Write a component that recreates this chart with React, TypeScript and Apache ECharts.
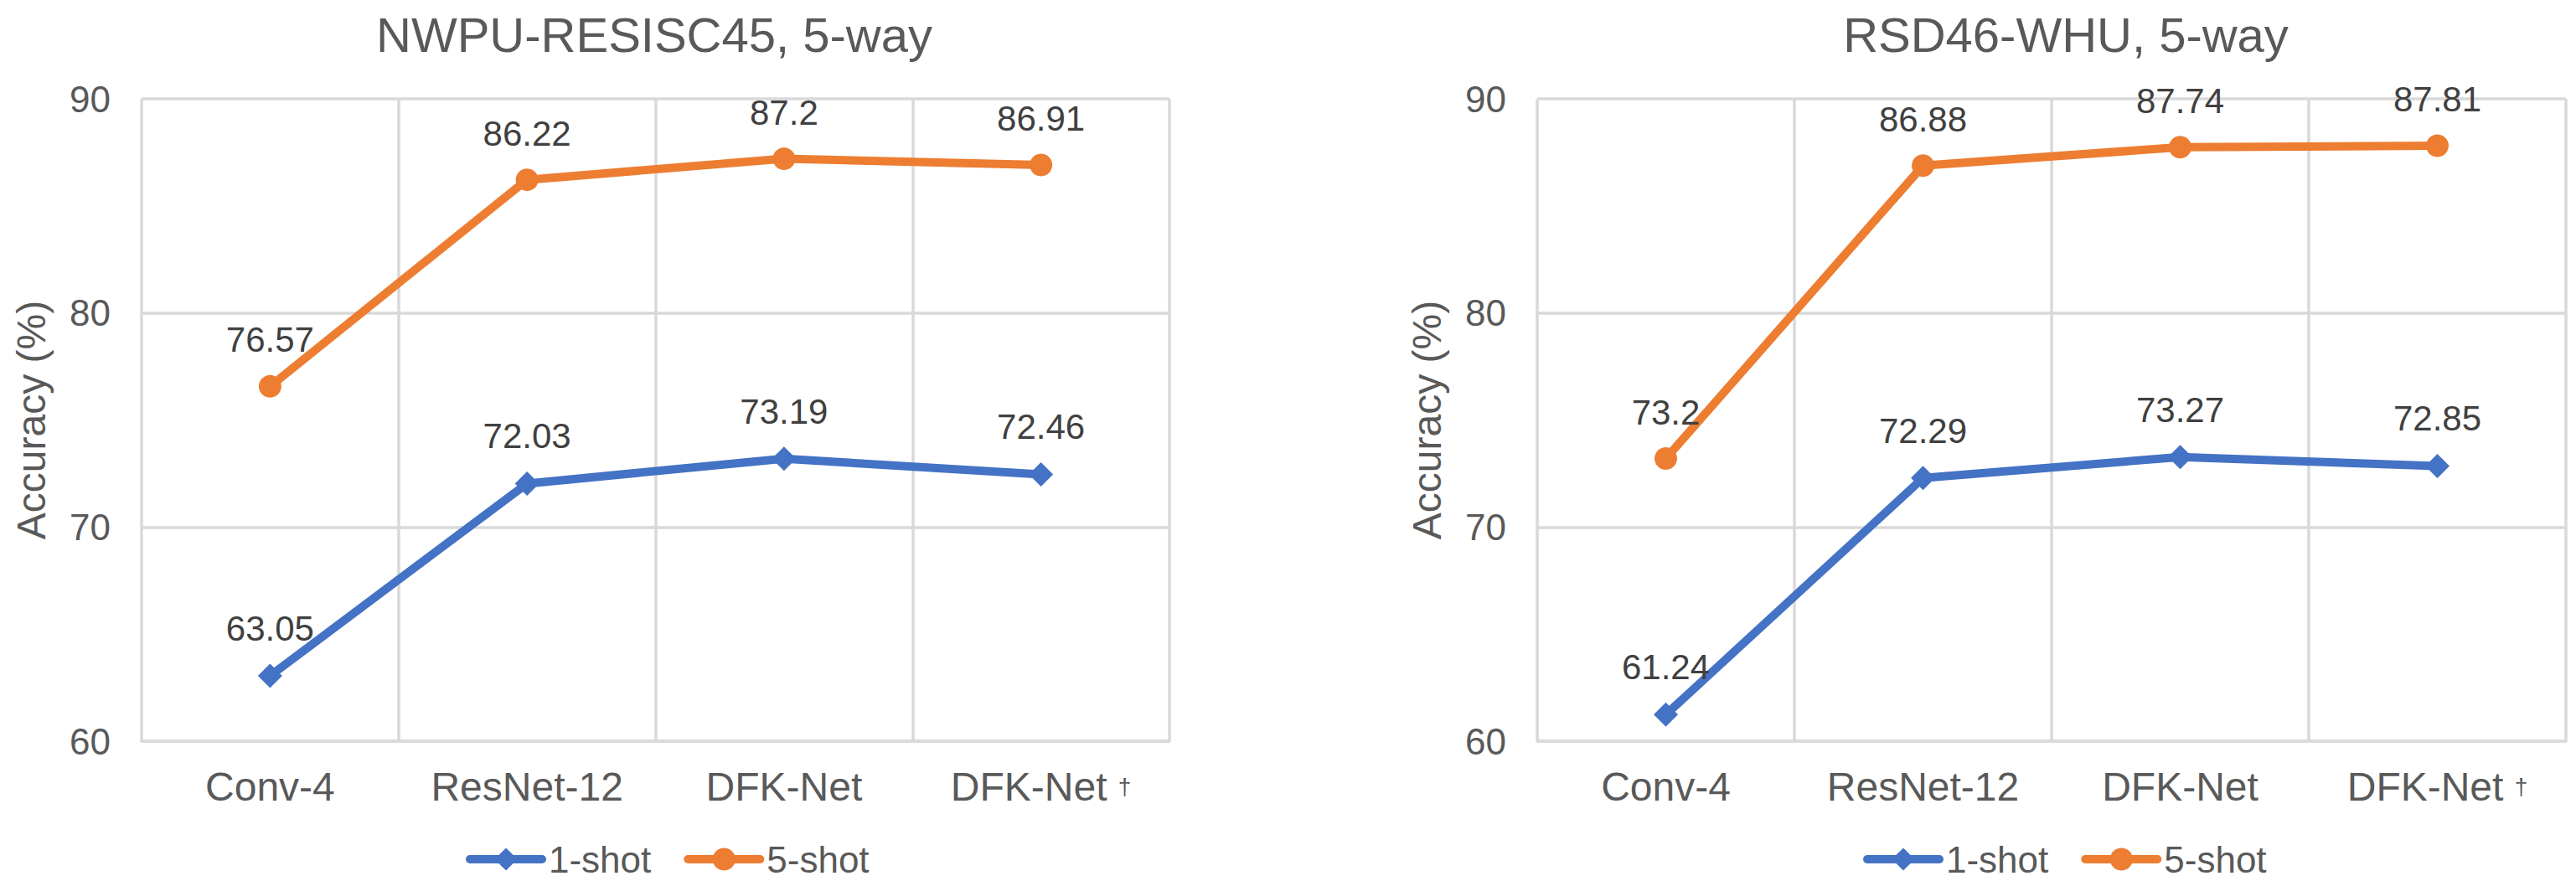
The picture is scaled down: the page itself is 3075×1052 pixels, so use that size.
import React, { useEffect, useRef } from "react";
import * as echarts from "echarts";

const categories = ["Conv-4", "ResNet-12", "DFK-Net", "DFK-Net †"];
const seriesNames = ["1-shot", "5-shot"];
const nwpuOneShot = [63.05, 72.03, 73.19, 72.46];
const nwpuFiveShot = [76.57, 86.22, 87.2, 86.91];
const rsdOneShot = [61.24, 72.29, 73.27, 72.85];
const rsdFiveShot = [73.2, 86.88, 87.74, 87.81];
const chartTitles = ["NWPU-RESISC45, 5-way", "RSD46-WHU, 5-way"];
const yMin = 60;
const yMax = 90;
const yInterval = 10;
const yName = "Accuracy (%)";

const BLUE = "#4472C4";
const ORANGE = "#ED7D31";
const TEXT = "#595959";
const LABEL = "#404040";
const GRID = "#D9D9D9";
const FONT = "'Liberation Sans', Arial, Helvetica, sans-serif";
const LINE_W = 10;

const panels = [
  { left: 169, width: 1227, titleX: 781, legendLeft: 551, one: nwpuOneShot, five: nwpuFiveShot },
  { left: 1835, width: 1228, titleX: 2466, legendLeft: 2219, one: rsdOneShot, five: rsdFiveShot },
];

function buildOption() {
  const grid: any[] = [];
  const xAxis: any[] = [];
  const yAxis: any[] = [];
  const series: any[] = [];
  const legend: any[] = [];
  const graphic: any[] = [];

  panels.forEach((p, i) => {
    grid.push({ left: p.left, top: 118, width: p.width, height: 767, containLabel: false });
    xAxis.push({
      type: "category",
      gridIndex: i,
      data: categories,
      boundaryGap: true,
      axisTick: { show: false },
      axisLine: { show: true, lineStyle: { color: GRID, width: 3.5 } },
      splitLine: { show: true, interval: 0, lineStyle: { color: GRID, width: 3.5 } },
      axisLabel: {
        interval: 0,
        color: TEXT,
        fontSize: 48,
        fontFamily: FONT,
        margin: 30,
        formatter: (v: string) => v.replace("†", "{d|†}"),
        rich: {
          d: { fontSize: 28, color: TEXT, fontFamily: FONT },
        },
      },
    });
    yAxis.push({
      type: "value",
      gridIndex: i,
      min: yMin,
      max: yMax,
      interval: yInterval,
      name: yName,
      nameLocation: "middle",
      nameGap: 108,
      nameTextStyle: { color: TEXT, fontSize: 48, fontFamily: FONT },
      axisLine: { show: false },
      axisTick: { show: false },
      splitLine: { show: true, lineStyle: { color: GRID, width: 3.5 } },
      axisLabel: { color: TEXT, fontSize: 44, fontFamily: FONT, margin: 37 },
    });
    const label = {
      show: true,
      position: "top",
      distance: 21,
      color: LABEL,
      fontSize: 42,
      fontFamily: FONT,
    };
    series.push({
      type: "line",
      xAxisIndex: i,
      yAxisIndex: i,
      name: seriesNames[0],
      data: p.one,
      symbol: "diamond",
      symbolSize: 29,
      color: BLUE,
      itemStyle: { color: BLUE },
      lineStyle: { width: LINE_W, color: BLUE, cap: "round", join: "round" },
      label,
    });
    series.push({
      type: "line",
      xAxisIndex: i,
      yAxisIndex: i,
      name: seriesNames[1],
      data: p.five,
      symbol: "circle",
      symbolSize: 27,
      color: ORANGE,
      itemStyle: { color: ORANGE },
      lineStyle: { width: LINE_W, color: ORANGE, cap: "round", join: "round" },
      label,
    });
    legend.push({
      data: seriesNames,
      left: p.legendLeft,
      top: 999,
      itemWidth: 86,
      itemHeight: 34,
      itemGap: 39,
      padding: 5,
      lineStyle: { width: LINE_W, cap: "round" },
      textStyle: { color: TEXT, fontSize: 44, fontFamily: FONT, lineHeight: 44, padding: [0, 0, 0, 3] },
    });
    graphic.push({
      type: "text",
      x: p.titleX,
      y: 41,
      style: {
        text: chartTitles[i],
        textAlign: "center",
        textVerticalAlign: "middle",
        fontSize: 58,
        fontFamily: FONT,
        fill: TEXT,
      },
    });
  });

  return {
    animation: false,
    backgroundColor: "#ffffff",
    textStyle: { fontFamily: FONT },
    grid,
    xAxis,
    yAxis,
    series,
    legend,
    graphic,
  };
}

export default function App() {
  const ref = useRef<HTMLDivElement>(null);
  useEffect(() => {
    if (!ref.current) return;
    const chart = echarts.init(ref.current, undefined, { renderer: "svg" });
    chart.setOption(buildOption() as any);
    return () => chart.dispose();
  }, []);
  return (
    <div
      ref={ref}
      style={{ position: "absolute", left: 0, top: 0, width: 3075, height: 1052, background: "#fff" }}
    />
  );
}
